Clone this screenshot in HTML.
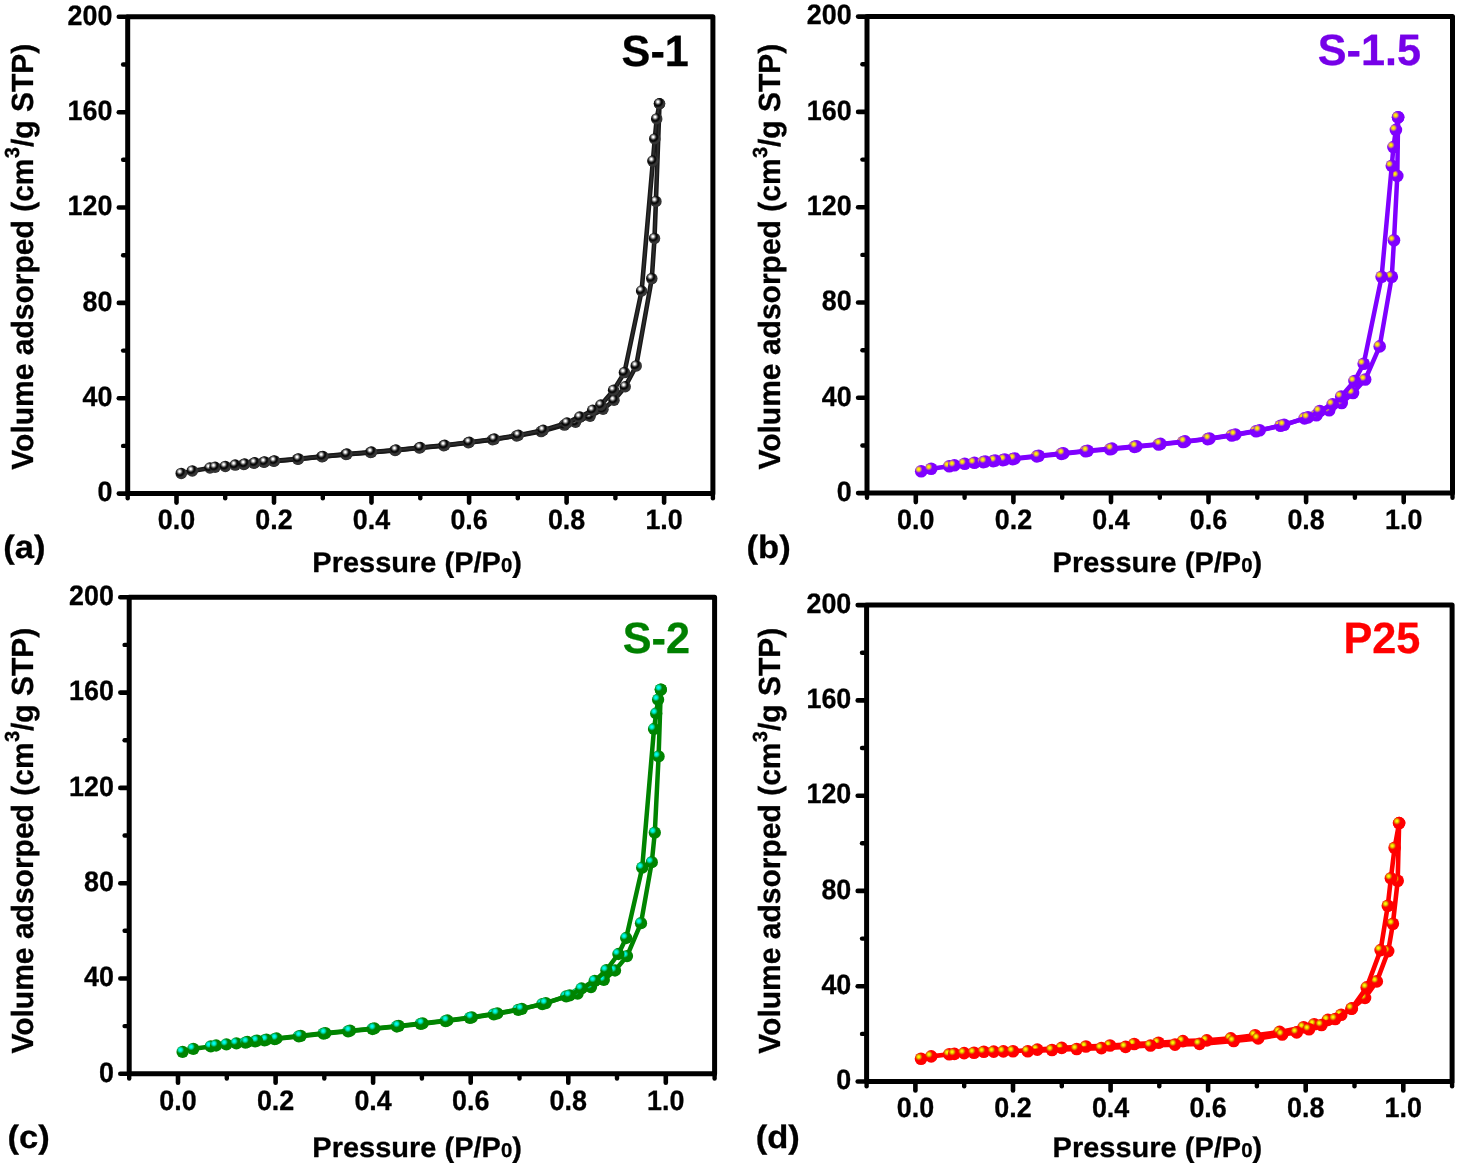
<!DOCTYPE html>
<html lang="en"><head><meta charset="utf-8"><title>N2 adsorption-desorption isotherms</title>
<style>html,body{margin:0;padding:0;background:#fff}body{width:1460px;height:1168px;overflow:hidden}svg{display:block}text{font-family:"Liberation Sans", Arial, Helvetica, sans-serif;font-weight:bold;stroke-width:0.3px;stroke-linejoin:round;text-rendering:geometricPrecision}</style></head><body>
<svg width="1460" height="1168" viewBox="0 0 1460 1168">
<defs>
<radialGradient id="gA" cx="0.36" cy="0.33" r="1"><stop offset="0" stop-color="#ffffff"/><stop offset="0.055" stop-color="#ffffff"/><stop offset="0.15" stop-color="#a0a0a0"/><stop offset="0.25" stop-color="#303030"/><stop offset="0.33" stop-color="#060606"/><stop offset="0.40" stop-color="#101010"/><stop offset="0.50" stop-color="#343434"/><stop offset="0.62" stop-color="#363636"/><stop offset="0.75" stop-color="#1c1c1c"/><stop offset="1" stop-color="#101010"/></radialGradient>
<radialGradient id="gB" cx="0.30" cy="0.34" r="1"><stop offset="0" stop-color="#ffff00"/><stop offset="0.07" stop-color="#fcec08"/><stop offset="0.16" stop-color="#e0a848"/><stop offset="0.24" stop-color="#a040c0"/><stop offset="0.30" stop-color="#7f00ff"/><stop offset="1" stop-color="#7f00ff"/></radialGradient>
<radialGradient id="gC" cx="0.32" cy="0.33" r="1"><stop offset="0" stop-color="#00ffff"/><stop offset="0.07" stop-color="#00fbec"/><stop offset="0.17" stop-color="#00d8a8"/><stop offset="0.25" stop-color="#00a040"/><stop offset="0.31" stop-color="#008400"/><stop offset="1" stop-color="#008400"/></radialGradient>
<radialGradient id="gD" cx="0.32" cy="0.34" r="1"><stop offset="0" stop-color="#ffff00"/><stop offset="0.07" stop-color="#fcf000"/><stop offset="0.17" stop-color="#e0a000"/><stop offset="0.25" stop-color="#f03000"/><stop offset="0.31" stop-color="#ff0000"/><stop offset="1" stop-color="#ff0000"/></radialGradient>
</defs>
<rect x="0" y="0" width="1460" height="1168" fill="#ffffff"/>
<g id="panel-a">
<polyline fill="none" stroke="#181818" stroke-width="4.6" stroke-linejoin="round" stroke-linecap="round" points="181.2,473.4 192.3,470.9 209.9,468 215.1,467.2 225.3,466.4 235.2,465.1 243.7,464.4 253.8,463.2 263.7,462.3 273.5,461.3 297.6,459.3 321.8,456.8 345.9,454.5 370.5,452.5 395,450.4 419.2,448 443.7,445.7 468.3,442.7 492.5,439.8 516.6,435.9 541.1,431.6 564.4,425.1 575.5,422.2 590.1,416.2 603,409.3 614,400.3 625.2,386.7 636.2,365.9 651.8,278.6 654.5,238.4 655.9,201.4 659.5,103.8"/>
<polyline fill="none" stroke="#2c2c2c" stroke-width="1.9" stroke-linejoin="round" stroke-linecap="round" points="181.2,473.4 192.3,470.9 209.9,468 215.1,467.2 225.3,466.4 235.2,465.1 243.7,464.4 253.8,463.2 263.7,462.3 273.5,461.3 297.6,459.3 321.8,456.8 345.9,454.5 370.5,452.5 395,450.4 419.2,448 443.7,445.7 468.3,442.7 492.5,439.8 516.6,435.9 541.1,431.6 564.4,425.1 575.5,422.2 590.1,416.2 603,409.3 614,400.3 625.2,386.7 636.2,365.9 651.8,278.6 654.5,238.4 655.9,201.4 659.5,103.8"/>
<g fill="url(#gA)">
<circle cx="181.2" cy="473.4" r="5.75"/>
<circle cx="192.3" cy="470.9" r="5.75"/>
<circle cx="209.9" cy="468" r="5.75"/>
<circle cx="215.1" cy="467.2" r="5.75"/>
<circle cx="225.3" cy="466.4" r="5.75"/>
<circle cx="235.2" cy="465.1" r="5.75"/>
<circle cx="243.7" cy="464.4" r="5.75"/>
<circle cx="253.8" cy="463.2" r="5.75"/>
<circle cx="263.7" cy="462.3" r="5.75"/>
<circle cx="273.5" cy="461.3" r="5.75"/>
<circle cx="297.6" cy="459.3" r="5.75"/>
<circle cx="321.8" cy="456.8" r="5.75"/>
<circle cx="345.9" cy="454.5" r="5.75"/>
<circle cx="370.5" cy="452.5" r="5.75"/>
<circle cx="395" cy="450.4" r="5.75"/>
<circle cx="419.2" cy="448" r="5.75"/>
<circle cx="443.7" cy="445.7" r="5.75"/>
<circle cx="468.3" cy="442.7" r="5.75"/>
<circle cx="492.5" cy="439.8" r="5.75"/>
<circle cx="516.6" cy="435.9" r="5.75"/>
<circle cx="541.1" cy="431.6" r="5.75"/>
<circle cx="564.4" cy="425.1" r="5.75"/>
<circle cx="575.5" cy="422.2" r="5.75"/>
<circle cx="590.1" cy="416.2" r="5.75"/>
<circle cx="603" cy="409.3" r="5.75"/>
<circle cx="614" cy="400.3" r="5.75"/>
<circle cx="625.2" cy="386.7" r="5.75"/>
<circle cx="636.2" cy="365.9" r="5.75"/>
<circle cx="651.8" cy="278.6" r="5.75"/>
<circle cx="654.5" cy="238.4" r="5.75"/>
<circle cx="655.9" cy="201.4" r="5.75"/>
<circle cx="659.5" cy="103.8" r="5.75"/>
</g>
<polyline fill="none" stroke="#181818" stroke-width="4.6" stroke-linejoin="round" stroke-linecap="round" points="659.5,103.8 656.7,118.9 654.8,138.9 652.9,161.1 641.6,291 624.4,372.6 613.6,390.2 600.9,405.1 592.7,410.2 579.8,417.1 567,423 543.2,430.2 518.4,435.2 494.3,439.1 469.3,442.3 444.7,445.3 420.2,447.6 396,450 371.5,452.1 346.9,454.1 322.8,456.4 298.6,458.9 274.5,460.9 264.7,461.9 254.8,462.8 244.7,464"/>
<polyline fill="none" stroke="#2c2c2c" stroke-width="1.9" stroke-linejoin="round" stroke-linecap="round" points="659.5,103.8 656.7,118.9 654.8,138.9 652.9,161.1 641.6,291 624.4,372.6 613.6,390.2 600.9,405.1 592.7,410.2 579.8,417.1 567,423 543.2,430.2 518.4,435.2 494.3,439.1 469.3,442.3 444.7,445.3 420.2,447.6 396,450 371.5,452.1 346.9,454.1 322.8,456.4 298.6,458.9 274.5,460.9 264.7,461.9 254.8,462.8 244.7,464"/>
<g fill="url(#gA)">
<circle cx="659.5" cy="103.8" r="5.75"/>
<circle cx="656.7" cy="118.9" r="5.75"/>
<circle cx="654.8" cy="138.9" r="5.75"/>
<circle cx="652.9" cy="161.1" r="5.75"/>
<circle cx="641.6" cy="291" r="5.75"/>
<circle cx="624.4" cy="372.6" r="5.75"/>
<circle cx="613.6" cy="390.2" r="5.75"/>
<circle cx="600.9" cy="405.1" r="5.75"/>
<circle cx="592.7" cy="410.2" r="5.75"/>
<circle cx="579.8" cy="417.1" r="5.75"/>
<circle cx="567" cy="423" r="5.75"/>
<circle cx="543.2" cy="430.2" r="5.75"/>
<circle cx="518.4" cy="435.2" r="5.75"/>
<circle cx="494.3" cy="439.1" r="5.75"/>
<circle cx="469.3" cy="442.3" r="5.75"/>
<circle cx="444.7" cy="445.3" r="5.75"/>
<circle cx="420.2" cy="447.6" r="5.75"/>
<circle cx="396" cy="450" r="5.75"/>
<circle cx="371.5" cy="452.1" r="5.75"/>
<circle cx="346.9" cy="454.1" r="5.75"/>
<circle cx="322.8" cy="456.4" r="5.75"/>
<circle cx="298.6" cy="458.9" r="5.75"/>
<circle cx="274.5" cy="460.9" r="5.75"/>
<circle cx="264.7" cy="461.9" r="5.75"/>
<circle cx="254.8" cy="462.8" r="5.75"/>
<circle cx="244.7" cy="464" r="5.75"/>
</g>
<g stroke="#000" stroke-width="5" stroke-linecap="round" stroke-linejoin="round" fill="none">
<rect x="127.7" y="16.8" width="585.2" height="476.8"/>
<line x1="126.7" y1="493.6" x2="118.8" y2="493.6" stroke-width="4.6"/>
<line x1="126.7" y1="445.9" x2="123.1" y2="445.9" stroke-width="4.4"/>
<line x1="126.7" y1="398.2" x2="118.8" y2="398.2" stroke-width="4.6"/>
<line x1="126.7" y1="350.6" x2="123.1" y2="350.6" stroke-width="4.4"/>
<line x1="126.7" y1="302.9" x2="118.8" y2="302.9" stroke-width="4.6"/>
<line x1="126.7" y1="255.2" x2="123.1" y2="255.2" stroke-width="4.4"/>
<line x1="126.7" y1="207.5" x2="118.8" y2="207.5" stroke-width="4.6"/>
<line x1="126.7" y1="159.8" x2="123.1" y2="159.8" stroke-width="4.4"/>
<line x1="126.7" y1="112.2" x2="118.8" y2="112.2" stroke-width="4.6"/>
<line x1="126.7" y1="64.5" x2="123.1" y2="64.5" stroke-width="4.4"/>
<line x1="126.7" y1="16.8" x2="118.8" y2="16.8" stroke-width="4.6"/>
<line x1="127.7" y1="494.6" x2="127.7" y2="498.3" stroke-width="4.4"/>
<line x1="176.5" y1="494.6" x2="176.5" y2="502.6" stroke-width="4.6"/>
<line x1="225.2" y1="494.6" x2="225.2" y2="498.3" stroke-width="4.4"/>
<line x1="274" y1="494.6" x2="274" y2="502.6" stroke-width="4.6"/>
<line x1="322.8" y1="494.6" x2="322.8" y2="498.3" stroke-width="4.4"/>
<line x1="371.5" y1="494.6" x2="371.5" y2="502.6" stroke-width="4.6"/>
<line x1="420.3" y1="494.6" x2="420.3" y2="498.3" stroke-width="4.4"/>
<line x1="469.1" y1="494.6" x2="469.1" y2="502.6" stroke-width="4.6"/>
<line x1="517.8" y1="494.6" x2="517.8" y2="498.3" stroke-width="4.4"/>
<line x1="566.6" y1="494.6" x2="566.6" y2="502.6" stroke-width="4.6"/>
<line x1="615.4" y1="494.6" x2="615.4" y2="498.3" stroke-width="4.4"/>
<line x1="664.1" y1="494.6" x2="664.1" y2="502.6" stroke-width="4.6"/>
<line x1="712.9" y1="494.6" x2="712.9" y2="498.3" stroke-width="4.4"/>
</g>
<g font-size="26.9" fill="#000">
<text transform="translate(112.4,501.3) scale(1,1.045)" text-anchor="end" stroke="#000">0</text>
<text transform="translate(112.4,405.9) scale(1,1.045)" text-anchor="end" stroke="#000">40</text>
<text transform="translate(112.4,310.6) scale(1,1.045)" text-anchor="end" stroke="#000">80</text>
<text transform="translate(112.4,215.2) scale(1,1.045)" text-anchor="end" stroke="#000">120</text>
<text transform="translate(112.4,119.9) scale(1,1.045)" text-anchor="end" stroke="#000">160</text>
<text transform="translate(112.4,24.5) scale(1,1.045)" text-anchor="end" stroke="#000">200</text>
<text transform="translate(176.5,529.3) scale(1,1.045)" text-anchor="middle" stroke="#000">0.0</text>
<text transform="translate(274,529.3) scale(1,1.045)" text-anchor="middle" stroke="#000">0.2</text>
<text transform="translate(371.5,529.3) scale(1,1.045)" text-anchor="middle" stroke="#000">0.4</text>
<text transform="translate(469.1,529.3) scale(1,1.045)" text-anchor="middle" stroke="#000">0.6</text>
<text transform="translate(566.6,529.3) scale(1,1.045)" text-anchor="middle" stroke="#000">0.8</text>
<text transform="translate(664.1,529.3) scale(1,1.045)" text-anchor="middle" stroke="#000">1.0</text>
</g>
<text transform="translate(417.1,571.9) scale(1,0.98)" text-anchor="middle" font-size="29.0" stroke="#000">Pressure (P/P<tspan font-size="20.4">0</tspan>)</text>
<text transform="translate(33,256.7) rotate(-90) scale(1,1.02)" text-anchor="middle" font-size="30.0" stroke="#000">Volume adsorped (cm<tspan font-size="20" dy="-13.5" dx="0.3">3</tspan><tspan dy="13.5">/g STP)</tspan></text>
<text transform="translate(3.3,558.2) scale(1,0.935)" font-size="34.6" stroke="#000">(a)</text>
<text transform="translate(621.6,66.2) scale(1,1.015)" font-size="43.2" fill="#000000" stroke="#000000">S-1</text>
</g>
<g id="panel-b">
<polyline fill="none" stroke="#7F00FF" stroke-width="4.5" stroke-linejoin="round" stroke-linecap="round" points="921.2,471.3 931.2,468.8 949.3,466.2 954.4,465.3 964.7,463.7 974.4,462.7 983.3,462.1 993.2,461.1 1002.9,460.1 1012.7,459.1 1036.8,456.4 1061.4,453.9 1085.7,451.3 1110.1,449.2 1134.4,446.9 1158.6,444.5 1183.1,442 1207.6,439.1 1231.8,435.5 1256.1,431.3 1280.6,425.8 1304.5,418.4 1316.4,415.3 1329.2,410.2 1341.7,403 1353,393 1365.2,379.5 1379.7,346.4 1391.8,276.7 1394,240.3 1397.3,175.9 1398.1,117.3"/>
<g fill="url(#gB)">
<circle cx="921.2" cy="471.3" r="6.3"/>
<circle cx="931.2" cy="468.8" r="6.3"/>
<circle cx="949.3" cy="466.2" r="6.3"/>
<circle cx="954.4" cy="465.3" r="6.3"/>
<circle cx="964.7" cy="463.7" r="6.3"/>
<circle cx="974.4" cy="462.7" r="6.3"/>
<circle cx="983.3" cy="462.1" r="6.3"/>
<circle cx="993.2" cy="461.1" r="6.3"/>
<circle cx="1002.9" cy="460.1" r="6.3"/>
<circle cx="1012.7" cy="459.1" r="6.3"/>
<circle cx="1036.8" cy="456.4" r="6.3"/>
<circle cx="1061.4" cy="453.9" r="6.3"/>
<circle cx="1085.7" cy="451.3" r="6.3"/>
<circle cx="1110.1" cy="449.2" r="6.3"/>
<circle cx="1134.4" cy="446.9" r="6.3"/>
<circle cx="1158.6" cy="444.5" r="6.3"/>
<circle cx="1183.1" cy="442" r="6.3"/>
<circle cx="1207.6" cy="439.1" r="6.3"/>
<circle cx="1231.8" cy="435.5" r="6.3"/>
<circle cx="1256.1" cy="431.3" r="6.3"/>
<circle cx="1280.6" cy="425.8" r="6.3"/>
<circle cx="1304.5" cy="418.4" r="6.3"/>
<circle cx="1316.4" cy="415.3" r="6.3"/>
<circle cx="1329.2" cy="410.2" r="6.3"/>
<circle cx="1341.7" cy="403" r="6.3"/>
<circle cx="1353" cy="393" r="6.3"/>
<circle cx="1365.2" cy="379.5" r="6.3"/>
<circle cx="1379.7" cy="346.4" r="6.3"/>
<circle cx="1391.8" cy="276.7" r="6.3"/>
<circle cx="1394" cy="240.3" r="6.3"/>
<circle cx="1397.3" cy="175.9" r="6.3"/>
<circle cx="1398.1" cy="117.3" r="6.3"/>
</g>
<polyline fill="none" stroke="#7F00FF" stroke-width="4.5" stroke-linejoin="round" stroke-linecap="round" points="1398.1,117.3 1395.9,129.9 1393.4,147.1 1391.8,165.8 1381.6,276.7 1363.7,363.8 1354.5,381 1341.2,396.5 1332.7,404.2 1319.8,411 1308,417.4 1284.1,424.8 1259.6,430.3 1235.3,434.5 1209.5,438.5 1185,441.4 1160.5,443.9 1136.3,446.3 1112,448.6 1087.6,450.7 1063.3,453.3 1038.7,455.8 1014.6,458.5 1004.8,459.5 995.1,460.5 985.2,461.5"/>
<g fill="url(#gB)">
<circle cx="1398.1" cy="117.3" r="6.3"/>
<circle cx="1395.9" cy="129.9" r="6.3"/>
<circle cx="1393.4" cy="147.1" r="6.3"/>
<circle cx="1391.8" cy="165.8" r="6.3"/>
<circle cx="1381.6" cy="276.7" r="6.3"/>
<circle cx="1363.7" cy="363.8" r="6.3"/>
<circle cx="1354.5" cy="381" r="6.3"/>
<circle cx="1341.2" cy="396.5" r="6.3"/>
<circle cx="1332.7" cy="404.2" r="6.3"/>
<circle cx="1319.8" cy="411" r="6.3"/>
<circle cx="1308" cy="417.4" r="6.3"/>
<circle cx="1284.1" cy="424.8" r="6.3"/>
<circle cx="1259.6" cy="430.3" r="6.3"/>
<circle cx="1235.3" cy="434.5" r="6.3"/>
<circle cx="1209.5" cy="438.5" r="6.3"/>
<circle cx="1185" cy="441.4" r="6.3"/>
<circle cx="1160.5" cy="443.9" r="6.3"/>
<circle cx="1136.3" cy="446.3" r="6.3"/>
<circle cx="1112" cy="448.6" r="6.3"/>
<circle cx="1087.6" cy="450.7" r="6.3"/>
<circle cx="1063.3" cy="453.3" r="6.3"/>
<circle cx="1038.7" cy="455.8" r="6.3"/>
<circle cx="1014.6" cy="458.5" r="6.3"/>
<circle cx="1004.8" cy="459.5" r="6.3"/>
<circle cx="995.1" cy="460.5" r="6.3"/>
<circle cx="985.2" cy="461.5" r="6.3"/>
</g>
<g stroke="#000" stroke-width="5" stroke-linecap="round" stroke-linejoin="round" fill="none">
<rect x="867" y="16.6" width="585.5" height="476.5"/>
<line x1="866" y1="493.1" x2="858.1" y2="493.1" stroke-width="4.6"/>
<line x1="866" y1="445.5" x2="862.4" y2="445.5" stroke-width="4.4"/>
<line x1="866" y1="397.8" x2="858.1" y2="397.8" stroke-width="4.6"/>
<line x1="866" y1="350.2" x2="862.4" y2="350.2" stroke-width="4.4"/>
<line x1="866" y1="302.5" x2="858.1" y2="302.5" stroke-width="4.6"/>
<line x1="866" y1="254.9" x2="862.4" y2="254.9" stroke-width="4.4"/>
<line x1="866" y1="207.2" x2="858.1" y2="207.2" stroke-width="4.6"/>
<line x1="866" y1="159.6" x2="862.4" y2="159.6" stroke-width="4.4"/>
<line x1="866" y1="111.9" x2="858.1" y2="111.9" stroke-width="4.6"/>
<line x1="866" y1="64.3" x2="862.4" y2="64.3" stroke-width="4.4"/>
<line x1="866" y1="16.6" x2="858.1" y2="16.6" stroke-width="4.6"/>
<line x1="867" y1="494.1" x2="867" y2="497.8" stroke-width="4.4"/>
<line x1="915.8" y1="494.1" x2="915.8" y2="502.1" stroke-width="4.6"/>
<line x1="964.6" y1="494.1" x2="964.6" y2="497.8" stroke-width="4.4"/>
<line x1="1013.4" y1="494.1" x2="1013.4" y2="502.1" stroke-width="4.6"/>
<line x1="1062.2" y1="494.1" x2="1062.2" y2="497.8" stroke-width="4.4"/>
<line x1="1111" y1="494.1" x2="1111" y2="502.1" stroke-width="4.6"/>
<line x1="1159.8" y1="494.1" x2="1159.8" y2="497.8" stroke-width="4.4"/>
<line x1="1208.5" y1="494.1" x2="1208.5" y2="502.1" stroke-width="4.6"/>
<line x1="1257.3" y1="494.1" x2="1257.3" y2="497.8" stroke-width="4.4"/>
<line x1="1306.1" y1="494.1" x2="1306.1" y2="502.1" stroke-width="4.6"/>
<line x1="1354.9" y1="494.1" x2="1354.9" y2="497.8" stroke-width="4.4"/>
<line x1="1403.7" y1="494.1" x2="1403.7" y2="502.1" stroke-width="4.6"/>
<line x1="1452.5" y1="494.1" x2="1452.5" y2="497.8" stroke-width="4.4"/>
</g>
<g font-size="26.9" fill="#000">
<text transform="translate(851.7,500.8) scale(1,1.045)" text-anchor="end" stroke="#000">0</text>
<text transform="translate(851.7,405.5) scale(1,1.045)" text-anchor="end" stroke="#000">40</text>
<text transform="translate(851.7,310.2) scale(1,1.045)" text-anchor="end" stroke="#000">80</text>
<text transform="translate(851.7,214.9) scale(1,1.045)" text-anchor="end" stroke="#000">120</text>
<text transform="translate(851.7,119.6) scale(1,1.045)" text-anchor="end" stroke="#000">160</text>
<text transform="translate(851.7,24.3) scale(1,1.045)" text-anchor="end" stroke="#000">200</text>
<text transform="translate(915.8,528.8) scale(1,1.045)" text-anchor="middle" stroke="#000">0.0</text>
<text transform="translate(1013.4,528.8) scale(1,1.045)" text-anchor="middle" stroke="#000">0.2</text>
<text transform="translate(1111,528.8) scale(1,1.045)" text-anchor="middle" stroke="#000">0.4</text>
<text transform="translate(1208.5,528.8) scale(1,1.045)" text-anchor="middle" stroke="#000">0.6</text>
<text transform="translate(1306.1,528.8) scale(1,1.045)" text-anchor="middle" stroke="#000">0.8</text>
<text transform="translate(1403.7,528.8) scale(1,1.045)" text-anchor="middle" stroke="#000">1.0</text>
</g>
<text transform="translate(1157.4,571.9) scale(1,0.98)" text-anchor="middle" font-size="29.0" stroke="#000">Pressure (P/P<tspan font-size="20.4">0</tspan>)</text>
<text transform="translate(780.4,256.6) rotate(-90) scale(1,1.02)" text-anchor="middle" font-size="30.0" stroke="#000">Volume adsorped (cm<tspan font-size="20" dy="-13.5" dx="0.3">3</tspan><tspan dy="13.5">/g STP)</tspan></text>
<text transform="translate(746.6,558.3) scale(1,0.935)" font-size="34.6" stroke="#000">(b)</text>
<text transform="translate(1317.8,65.2) scale(1,1.015)" font-size="43.2" fill="#7600E8" stroke="#7600E8">S-1.5</text>
</g>
<g id="panel-c">
<polyline fill="none" stroke="#008400" stroke-width="4.5" stroke-linejoin="round" stroke-linecap="round" points="182.6,1051.9 193.3,1048.8 210.8,1046.4 216.1,1045.5 226.4,1044.3 236.4,1043.3 245.4,1042.6 255.1,1041.3 264.5,1040.3 274.6,1039.1 298.8,1036.4 323.5,1033.7 348.1,1031.3 372.4,1029 396.8,1026.5 420.7,1023.9 445.5,1021.1 469.9,1017.9 493.8,1014.3 518.3,1009.9 542.3,1004.1 566.2,996.4 577.6,993.6 591,987.1 603.8,979.9 615,970.5 627,956.1 641,923.2 651.8,862.2 654.8,832.6 658.6,756.4 660.8,689.6"/>
<g fill="url(#gC)">
<circle cx="182.6" cy="1051.9" r="6.15"/>
<circle cx="193.3" cy="1048.8" r="6.15"/>
<circle cx="210.8" cy="1046.4" r="6.15"/>
<circle cx="216.1" cy="1045.5" r="6.15"/>
<circle cx="226.4" cy="1044.3" r="6.15"/>
<circle cx="236.4" cy="1043.3" r="6.15"/>
<circle cx="245.4" cy="1042.6" r="6.15"/>
<circle cx="255.1" cy="1041.3" r="6.15"/>
<circle cx="264.5" cy="1040.3" r="6.15"/>
<circle cx="274.6" cy="1039.1" r="6.15"/>
<circle cx="298.8" cy="1036.4" r="6.15"/>
<circle cx="323.5" cy="1033.7" r="6.15"/>
<circle cx="348.1" cy="1031.3" r="6.15"/>
<circle cx="372.4" cy="1029" r="6.15"/>
<circle cx="396.8" cy="1026.5" r="6.15"/>
<circle cx="420.7" cy="1023.9" r="6.15"/>
<circle cx="445.5" cy="1021.1" r="6.15"/>
<circle cx="469.9" cy="1017.9" r="6.15"/>
<circle cx="493.8" cy="1014.3" r="6.15"/>
<circle cx="518.3" cy="1009.9" r="6.15"/>
<circle cx="542.3" cy="1004.1" r="6.15"/>
<circle cx="566.2" cy="996.4" r="6.15"/>
<circle cx="577.6" cy="993.6" r="6.15"/>
<circle cx="591" cy="987.1" r="6.15"/>
<circle cx="603.8" cy="979.9" r="6.15"/>
<circle cx="615" cy="970.5" r="6.15"/>
<circle cx="627" cy="956.1" r="6.15"/>
<circle cx="641" cy="923.2" r="6.15"/>
<circle cx="651.8" cy="862.2" r="6.15"/>
<circle cx="654.8" cy="832.6" r="6.15"/>
<circle cx="658.6" cy="756.4" r="6.15"/>
<circle cx="660.8" cy="689.6" r="6.15"/>
</g>
<polyline fill="none" stroke="#008400" stroke-width="4.5" stroke-linejoin="round" stroke-linecap="round" points="660.8,689.6 658.1,699.7 656.2,713.4 654,729 642.2,867.7 626.2,938 618.4,954 606.4,970.2 594.7,980.8 581.5,988.5 569.7,995.4 545.8,1003.1 521.8,1008.9 497.3,1013.3 471.8,1017.3 447.4,1020.5 422.6,1023.3 398.7,1025.9 374.3,1028.4 350,1030.7 325.4,1033.1 300.7,1035.8 276.5,1038.5 266.4,1039.7 257,1040.7 247.3,1042"/>
<g fill="url(#gC)">
<circle cx="660.8" cy="689.6" r="6.15"/>
<circle cx="658.1" cy="699.7" r="6.15"/>
<circle cx="656.2" cy="713.4" r="6.15"/>
<circle cx="654" cy="729" r="6.15"/>
<circle cx="642.2" cy="867.7" r="6.15"/>
<circle cx="626.2" cy="938" r="6.15"/>
<circle cx="618.4" cy="954" r="6.15"/>
<circle cx="606.4" cy="970.2" r="6.15"/>
<circle cx="594.7" cy="980.8" r="6.15"/>
<circle cx="581.5" cy="988.5" r="6.15"/>
<circle cx="569.7" cy="995.4" r="6.15"/>
<circle cx="545.8" cy="1003.1" r="6.15"/>
<circle cx="521.8" cy="1008.9" r="6.15"/>
<circle cx="497.3" cy="1013.3" r="6.15"/>
<circle cx="471.8" cy="1017.3" r="6.15"/>
<circle cx="447.4" cy="1020.5" r="6.15"/>
<circle cx="422.6" cy="1023.3" r="6.15"/>
<circle cx="398.7" cy="1025.9" r="6.15"/>
<circle cx="374.3" cy="1028.4" r="6.15"/>
<circle cx="350" cy="1030.7" r="6.15"/>
<circle cx="325.4" cy="1033.1" r="6.15"/>
<circle cx="300.7" cy="1035.8" r="6.15"/>
<circle cx="276.5" cy="1038.5" r="6.15"/>
<circle cx="266.4" cy="1039.7" r="6.15"/>
<circle cx="257" cy="1040.7" r="6.15"/>
<circle cx="247.3" cy="1042" r="6.15"/>
</g>
<g stroke="#000" stroke-width="5" stroke-linecap="round" stroke-linejoin="round" fill="none">
<rect x="129.2" y="597.3" width="585.4" height="476.5"/>
<line x1="128.2" y1="1073.8" x2="120.3" y2="1073.8" stroke-width="4.6"/>
<line x1="128.2" y1="1026.1" x2="124.6" y2="1026.1" stroke-width="4.4"/>
<line x1="128.2" y1="978.5" x2="120.3" y2="978.5" stroke-width="4.6"/>
<line x1="128.2" y1="930.8" x2="124.6" y2="930.8" stroke-width="4.4"/>
<line x1="128.2" y1="883.2" x2="120.3" y2="883.2" stroke-width="4.6"/>
<line x1="128.2" y1="835.5" x2="124.6" y2="835.5" stroke-width="4.4"/>
<line x1="128.2" y1="787.9" x2="120.3" y2="787.9" stroke-width="4.6"/>
<line x1="128.2" y1="740.2" x2="124.6" y2="740.2" stroke-width="4.4"/>
<line x1="128.2" y1="692.6" x2="120.3" y2="692.6" stroke-width="4.6"/>
<line x1="128.2" y1="644.9" x2="124.6" y2="644.9" stroke-width="4.4"/>
<line x1="128.2" y1="597.3" x2="120.3" y2="597.3" stroke-width="4.6"/>
<line x1="129.2" y1="1074.8" x2="129.2" y2="1078.5" stroke-width="4.4"/>
<line x1="178" y1="1074.8" x2="178" y2="1082.8" stroke-width="4.6"/>
<line x1="226.8" y1="1074.8" x2="226.8" y2="1078.5" stroke-width="4.4"/>
<line x1="275.6" y1="1074.8" x2="275.6" y2="1082.8" stroke-width="4.6"/>
<line x1="324.3" y1="1074.8" x2="324.3" y2="1078.5" stroke-width="4.4"/>
<line x1="373.1" y1="1074.8" x2="373.1" y2="1082.8" stroke-width="4.6"/>
<line x1="421.9" y1="1074.8" x2="421.9" y2="1078.5" stroke-width="4.4"/>
<line x1="470.7" y1="1074.8" x2="470.7" y2="1082.8" stroke-width="4.6"/>
<line x1="519.5" y1="1074.8" x2="519.5" y2="1078.5" stroke-width="4.4"/>
<line x1="568.3" y1="1074.8" x2="568.3" y2="1082.8" stroke-width="4.6"/>
<line x1="617" y1="1074.8" x2="617" y2="1078.5" stroke-width="4.4"/>
<line x1="665.8" y1="1074.8" x2="665.8" y2="1082.8" stroke-width="4.6"/>
<line x1="714.6" y1="1074.8" x2="714.6" y2="1078.5" stroke-width="4.4"/>
</g>
<g font-size="26.9" fill="#000">
<text transform="translate(113.9,1081.5) scale(1,1.045)" text-anchor="end" stroke="#000">0</text>
<text transform="translate(113.9,986.2) scale(1,1.045)" text-anchor="end" stroke="#000">40</text>
<text transform="translate(113.9,890.9) scale(1,1.045)" text-anchor="end" stroke="#000">80</text>
<text transform="translate(113.9,795.6) scale(1,1.045)" text-anchor="end" stroke="#000">120</text>
<text transform="translate(113.9,700.3) scale(1,1.045)" text-anchor="end" stroke="#000">160</text>
<text transform="translate(113.9,605) scale(1,1.045)" text-anchor="end" stroke="#000">200</text>
<text transform="translate(178,1109.5) scale(1,1.045)" text-anchor="middle" stroke="#000">0.0</text>
<text transform="translate(275.6,1109.5) scale(1,1.045)" text-anchor="middle" stroke="#000">0.2</text>
<text transform="translate(373.1,1109.5) scale(1,1.045)" text-anchor="middle" stroke="#000">0.4</text>
<text transform="translate(470.7,1109.5) scale(1,1.045)" text-anchor="middle" stroke="#000">0.6</text>
<text transform="translate(568.3,1109.5) scale(1,1.045)" text-anchor="middle" stroke="#000">0.8</text>
<text transform="translate(665.8,1109.5) scale(1,1.045)" text-anchor="middle" stroke="#000">1.0</text>
</g>
<text transform="translate(417.1,1156.5) scale(1,0.98)" text-anchor="middle" font-size="29.0" stroke="#000">Pressure (P/P<tspan font-size="20.4">0</tspan>)</text>
<text transform="translate(33.1,840.6) rotate(-90) scale(1,1.02)" text-anchor="middle" font-size="30.0" stroke="#000">Volume adsorped (cm<tspan font-size="20" dy="-13.5" dx="0.3">3</tspan><tspan dy="13.5">/g STP)</tspan></text>
<text transform="translate(7.4,1147.5) scale(1,0.935)" font-size="34.6" stroke="#000">(c)</text>
<text transform="translate(622.8,653) scale(1,1.015)" font-size="43.2" fill="#008000" stroke="#008000">S-2</text>
</g>
<g id="panel-d">
<polyline fill="none" stroke="#FF0000" stroke-width="4.6" stroke-linejoin="round" stroke-linecap="round" points="921,1058.8 931.2,1056.4 949.3,1054.3 954.4,1053.9 964.1,1053.1 974,1052.7 983.8,1051.8 993.7,1051.6 1003.4,1051.4 1013,1051.2 1037.3,1049.6 1061.7,1047.9 1085.9,1046.5 1110,1045.5 1134.2,1044 1158.5,1042.8 1182.9,1041.1 1206.8,1040.4 1230.8,1038.4 1255.1,1035.3 1279.6,1031.9 1303.6,1027.3 1314.2,1024.2 1327.9,1019.9 1341.2,1014.8 1351.5,1008.8 1365,997.9 1376.8,981.4 1388.2,951.1 1392.9,923.8 1397.7,880.7 1399.1,823.1"/>
<g fill="url(#gD)">
<circle cx="921" cy="1058.8" r="6.3"/>
<circle cx="931.2" cy="1056.4" r="6.3"/>
<circle cx="949.3" cy="1054.3" r="6.3"/>
<circle cx="954.4" cy="1053.9" r="6.3"/>
<circle cx="964.1" cy="1053.1" r="6.3"/>
<circle cx="974" cy="1052.7" r="6.3"/>
<circle cx="983.8" cy="1051.8" r="6.3"/>
<circle cx="993.7" cy="1051.6" r="6.3"/>
<circle cx="1003.4" cy="1051.4" r="6.3"/>
<circle cx="1013" cy="1051.2" r="6.3"/>
<circle cx="1037.3" cy="1049.6" r="6.3"/>
<circle cx="1061.7" cy="1047.9" r="6.3"/>
<circle cx="1085.9" cy="1046.5" r="6.3"/>
<circle cx="1110" cy="1045.5" r="6.3"/>
<circle cx="1134.2" cy="1044" r="6.3"/>
<circle cx="1158.5" cy="1042.8" r="6.3"/>
<circle cx="1182.9" cy="1041.1" r="6.3"/>
<circle cx="1206.8" cy="1040.4" r="6.3"/>
<circle cx="1230.8" cy="1038.4" r="6.3"/>
<circle cx="1255.1" cy="1035.3" r="6.3"/>
<circle cx="1279.6" cy="1031.9" r="6.3"/>
<circle cx="1303.6" cy="1027.3" r="6.3"/>
<circle cx="1314.2" cy="1024.2" r="6.3"/>
<circle cx="1327.9" cy="1019.9" r="6.3"/>
<circle cx="1341.2" cy="1014.8" r="6.3"/>
<circle cx="1351.5" cy="1008.8" r="6.3"/>
<circle cx="1365" cy="997.9" r="6.3"/>
<circle cx="1376.8" cy="981.4" r="6.3"/>
<circle cx="1388.2" cy="951.1" r="6.3"/>
<circle cx="1392.9" cy="923.8" r="6.3"/>
<circle cx="1397.7" cy="880.7" r="6.3"/>
<circle cx="1399.1" cy="823.1" r="6.3"/>
</g>
<polyline fill="none" stroke="#FF0000" stroke-width="4.6" stroke-linejoin="round" stroke-linecap="round" points="1399.1,823.1 1394.6,847.8 1390.9,878.2 1387.8,905.7 1380.6,950.1 1366.7,987.4 1351.8,1008.4 1335.2,1019 1321.5,1025 1309,1029.3 1296.7,1032.4 1282.2,1034.5 1258.2,1038.4 1233.7,1041 1199.5,1043.9 1175,1044.6 1150.5,1045.5 1125.6,1046.9 1101.4,1048.1 1076.7,1049 1052,1050 1027.8,1051.2"/>
<g fill="url(#gD)">
<circle cx="1399.1" cy="823.1" r="6.3"/>
<circle cx="1394.6" cy="847.8" r="6.3"/>
<circle cx="1390.9" cy="878.2" r="6.3"/>
<circle cx="1387.8" cy="905.7" r="6.3"/>
<circle cx="1380.6" cy="950.1" r="6.3"/>
<circle cx="1366.7" cy="987.4" r="6.3"/>
<circle cx="1351.8" cy="1008.4" r="6.3"/>
<circle cx="1335.2" cy="1019" r="6.3"/>
<circle cx="1321.5" cy="1025" r="6.3"/>
<circle cx="1309" cy="1029.3" r="6.3"/>
<circle cx="1296.7" cy="1032.4" r="6.3"/>
<circle cx="1282.2" cy="1034.5" r="6.3"/>
<circle cx="1258.2" cy="1038.4" r="6.3"/>
<circle cx="1233.7" cy="1041" r="6.3"/>
<circle cx="1199.5" cy="1043.9" r="6.3"/>
<circle cx="1175" cy="1044.6" r="6.3"/>
<circle cx="1150.5" cy="1045.5" r="6.3"/>
<circle cx="1125.6" cy="1046.9" r="6.3"/>
<circle cx="1101.4" cy="1048.1" r="6.3"/>
<circle cx="1076.7" cy="1049" r="6.3"/>
<circle cx="1052" cy="1050" r="6.3"/>
<circle cx="1027.8" cy="1051.2" r="6.3"/>
</g>
<g stroke="#000" stroke-width="5" stroke-linecap="round" stroke-linejoin="round" fill="none">
<rect x="866.6" y="605.1" width="585.5" height="476.4"/>
<line x1="865.6" y1="1081.5" x2="857.7" y2="1081.5" stroke-width="4.6"/>
<line x1="865.6" y1="1033.9" x2="862" y2="1033.9" stroke-width="4.4"/>
<line x1="865.6" y1="986.2" x2="857.7" y2="986.2" stroke-width="4.6"/>
<line x1="865.6" y1="938.6" x2="862" y2="938.6" stroke-width="4.4"/>
<line x1="865.6" y1="890.9" x2="857.7" y2="890.9" stroke-width="4.6"/>
<line x1="865.6" y1="843.3" x2="862" y2="843.3" stroke-width="4.4"/>
<line x1="865.6" y1="795.7" x2="857.7" y2="795.7" stroke-width="4.6"/>
<line x1="865.6" y1="748" x2="862" y2="748" stroke-width="4.4"/>
<line x1="865.6" y1="700.4" x2="857.7" y2="700.4" stroke-width="4.6"/>
<line x1="865.6" y1="652.7" x2="862" y2="652.7" stroke-width="4.4"/>
<line x1="865.6" y1="605.1" x2="857.7" y2="605.1" stroke-width="4.6"/>
<line x1="866.6" y1="1082.5" x2="866.6" y2="1086.2" stroke-width="4.4"/>
<line x1="915.4" y1="1082.5" x2="915.4" y2="1090.5" stroke-width="4.6"/>
<line x1="964.2" y1="1082.5" x2="964.2" y2="1086.2" stroke-width="4.4"/>
<line x1="1013" y1="1082.5" x2="1013" y2="1090.5" stroke-width="4.6"/>
<line x1="1061.8" y1="1082.5" x2="1061.8" y2="1086.2" stroke-width="4.4"/>
<line x1="1110.6" y1="1082.5" x2="1110.6" y2="1090.5" stroke-width="4.6"/>
<line x1="1159.3" y1="1082.5" x2="1159.3" y2="1086.2" stroke-width="4.4"/>
<line x1="1208.1" y1="1082.5" x2="1208.1" y2="1090.5" stroke-width="4.6"/>
<line x1="1256.9" y1="1082.5" x2="1256.9" y2="1086.2" stroke-width="4.4"/>
<line x1="1305.7" y1="1082.5" x2="1305.7" y2="1090.5" stroke-width="4.6"/>
<line x1="1354.5" y1="1082.5" x2="1354.5" y2="1086.2" stroke-width="4.4"/>
<line x1="1403.3" y1="1082.5" x2="1403.3" y2="1090.5" stroke-width="4.6"/>
<line x1="1452.1" y1="1082.5" x2="1452.1" y2="1086.2" stroke-width="4.4"/>
</g>
<g font-size="26.9" fill="#000">
<text transform="translate(851.3,1089.2) scale(1,1.045)" text-anchor="end" stroke="#000">0</text>
<text transform="translate(851.3,993.9) scale(1,1.045)" text-anchor="end" stroke="#000">40</text>
<text transform="translate(851.3,898.6) scale(1,1.045)" text-anchor="end" stroke="#000">80</text>
<text transform="translate(851.3,803.4) scale(1,1.045)" text-anchor="end" stroke="#000">120</text>
<text transform="translate(851.3,708.1) scale(1,1.045)" text-anchor="end" stroke="#000">160</text>
<text transform="translate(851.3,612.8) scale(1,1.045)" text-anchor="end" stroke="#000">200</text>
<text transform="translate(915.4,1117.2) scale(1,1.045)" text-anchor="middle" stroke="#000">0.0</text>
<text transform="translate(1013,1117.2) scale(1,1.045)" text-anchor="middle" stroke="#000">0.2</text>
<text transform="translate(1110.6,1117.2) scale(1,1.045)" text-anchor="middle" stroke="#000">0.4</text>
<text transform="translate(1208.1,1117.2) scale(1,1.045)" text-anchor="middle" stroke="#000">0.6</text>
<text transform="translate(1305.7,1117.2) scale(1,1.045)" text-anchor="middle" stroke="#000">0.8</text>
<text transform="translate(1403.3,1117.2) scale(1,1.045)" text-anchor="middle" stroke="#000">1.0</text>
</g>
<text transform="translate(1157.4,1156.5) scale(1,0.98)" text-anchor="middle" font-size="29.0" stroke="#000">Pressure (P/P<tspan font-size="20.4">0</tspan>)</text>
<text transform="translate(780.4,840.7) rotate(-90) scale(1,1.02)" text-anchor="middle" font-size="30.0" stroke="#000">Volume adsorped (cm<tspan font-size="20" dy="-13.5" dx="0.3">3</tspan><tspan dy="13.5">/g STP)</tspan></text>
<text transform="translate(755.7,1147.5) scale(1,0.935)" font-size="34.6" stroke="#000">(d)</text>
<text transform="translate(1343.5,653) scale(1,1.015)" font-size="43.2" fill="#FF0000" stroke="#FF0000">P25</text>
</g>
</svg>
</body></html>
